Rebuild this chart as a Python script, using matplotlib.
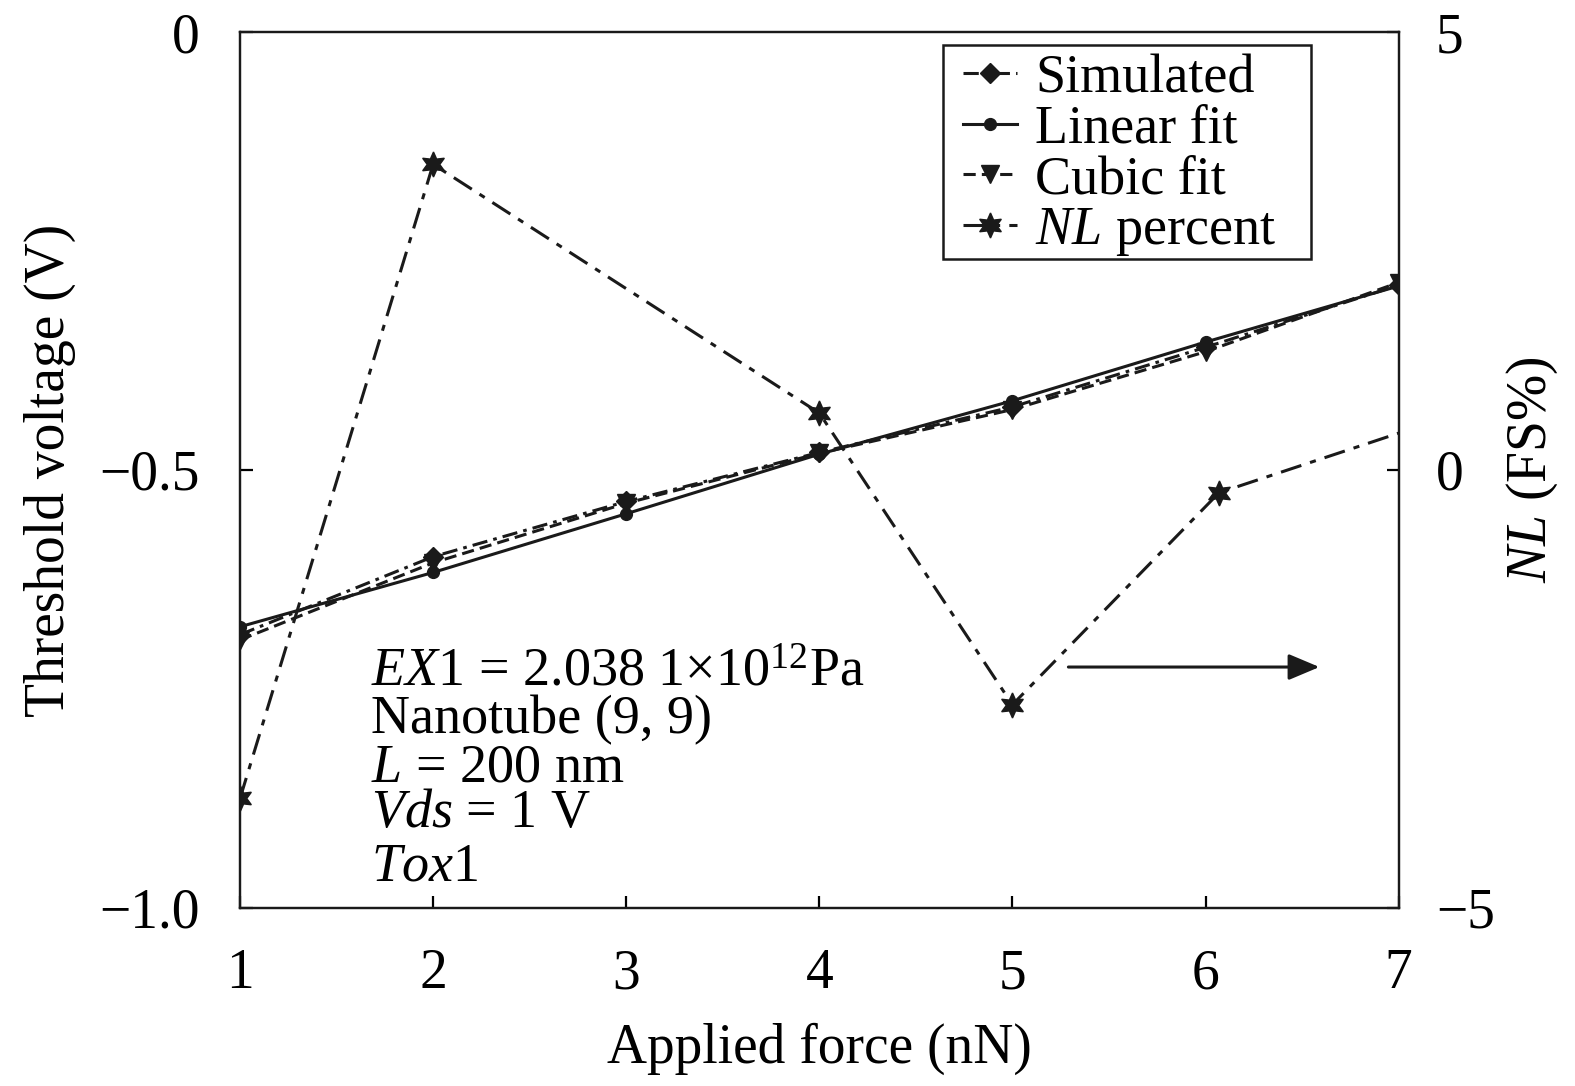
import matplotlib
matplotlib.use("Agg")
import matplotlib.pyplot as plt
from matplotlib.patches import Rectangle
from matplotlib.ticker import FuncFormatter

plt.rcParams['font.family'] = ['Liberation Serif', 'DejaVu Serif']
plt.rcParams['mathtext.fontset'] = 'custom'
plt.rcParams['mathtext.rm'] = 'Liberation Serif'
plt.rcParams['mathtext.it'] = 'Liberation Serif:italic'

force = [1, 2, 3, 4, 5, 6, 7]
simulated = [-0.688, -0.599, -0.536, -0.480, -0.428, -0.360, -0.289]
linear_fit = [-0.679, -0.617, -0.550, -0.482, -0.421, -0.354, -0.290]
cubic_fit = [-0.694, -0.606, -0.538, -0.481, -0.431, -0.365, -0.286]
nl_force = [1, 2, 4, 5, 6.07, 7]
nl_percent = [-3.75, 3.49, 0.65, -2.68, -0.26, 0.42]

info_lines = [r"$EX$1 = 2.038 1×10$^{12}$Pa", "Nanotube (9, 9)", r"$L$ = 200 nm",
              r"$Vds$ = 1 V", r"$Tox$1"]
info_y = [-0.731, -0.785, -0.840, -0.893, -0.954]

def left_fmt(v, _):
    if abs(v) < 1e-9:
        return "0"
    return f"{v:.1f}".replace("-", "\u2212")

def right_fmt(v, _):
    return f"{v:.0f}".replace("-", "\u2212")

fig = plt.figure(figsize=(15.75, 10.86), dpi=100)
ax = fig.add_axes([0.1524, 0.164, 0.7356, 0.8065])
ax2 = ax.twinx()

lw = 2.2
h1, = ax.plot(force, simulated, color='#1a1a1a', lw=lw, ls=(0, (5, 2, 1.2, 2)),
              marker='D', ms=10, label='Simulated')
h2, = ax.plot(force, linear_fit, color='#1a1a1a', lw=lw, ls='-',
              marker='o', ms=8.5, label='Linear fit')
h3, = ax.plot(force, cubic_fit, color='#1a1a1a', lw=lw, ls=(0, (4, 2)),
              marker='v', ms=12.5, label='Cubic fit')
h4, = ax2.plot(nl_force, nl_percent, color='#1a1a1a', lw=lw, ls=(0, (7, 3, 2, 3)),
               marker=(6, 1, 0), ms=18, markevery=[0, 1, 2, 3, 4], label='$NL$ percent')

ax.set_xlim(1, 7)
ax.set_ylim(-1.0, 0)
ax2.set_ylim(-5, 5)
ax.set_xticks(force)
ax.set_yticks([-1.0, -0.5, 0])
ax2.set_yticks([-5, 0, 5])
ax.yaxis.set_major_formatter(FuncFormatter(left_fmt))
ax2.yaxis.set_major_formatter(FuncFormatter(right_fmt))

for a in (ax, ax2):
    for s in a.spines.values():
        s.set_linewidth(1.6)
        s.set_color('#1a1a1a')
ax.tick_params(axis='x', direction='in', length=9, width=1.6, labelsize=40, pad=29)
ax.tick_params(axis='y', direction='in', length=9, width=1.6, labelsize=40, pad=29)
ax2.tick_params(axis='y', direction='in', length=9, width=1.6, labelsize=40, pad=27)

ax.set_xlabel('Applied force (nN)', fontsize=40, labelpad=16)
ax.set_ylabel('Threshold voltage (V)', fontsize=40, labelpad=17)
ax2.set_ylabel('$NL$ (FS%)', fontsize=40, labelpad=7)

for txt, yy in zip(info_lines, info_y):
    ax.text(1.677, yy, txt, fontsize=39, va='center', ha='left')

ax.annotate('', xy=(6.59, -0.725), xytext=(5.29, -0.725),
            arrowprops=dict(arrowstyle='-|>,head_length=0.95,head_width=0.4',
                            mutation_scale=20, color='#1a1a1a', lw=2.2,
                            shrinkA=0, shrinkB=0))

# legend box drawn separately so its size matches the original
ax2.add_patch(Rectangle((0.607, 0.741), 0.317, 0.244, transform=ax2.transAxes,
                        facecolor='white', edgecolor='#1a1a1a', lw=1.8, zorder=4))
leg = ax2.legend(handles=[h1, h2, h3, h4], loc='upper left', bbox_to_anchor=(0.624, 0.975),
                 borderaxespad=0, fontsize=39, frameon=False,
                 handlelength=1.0, handletextpad=0.33, labelspacing=0.0, borderpad=0)
leg.set_zorder(5)

fig.savefig('out.png', dpi=100)
